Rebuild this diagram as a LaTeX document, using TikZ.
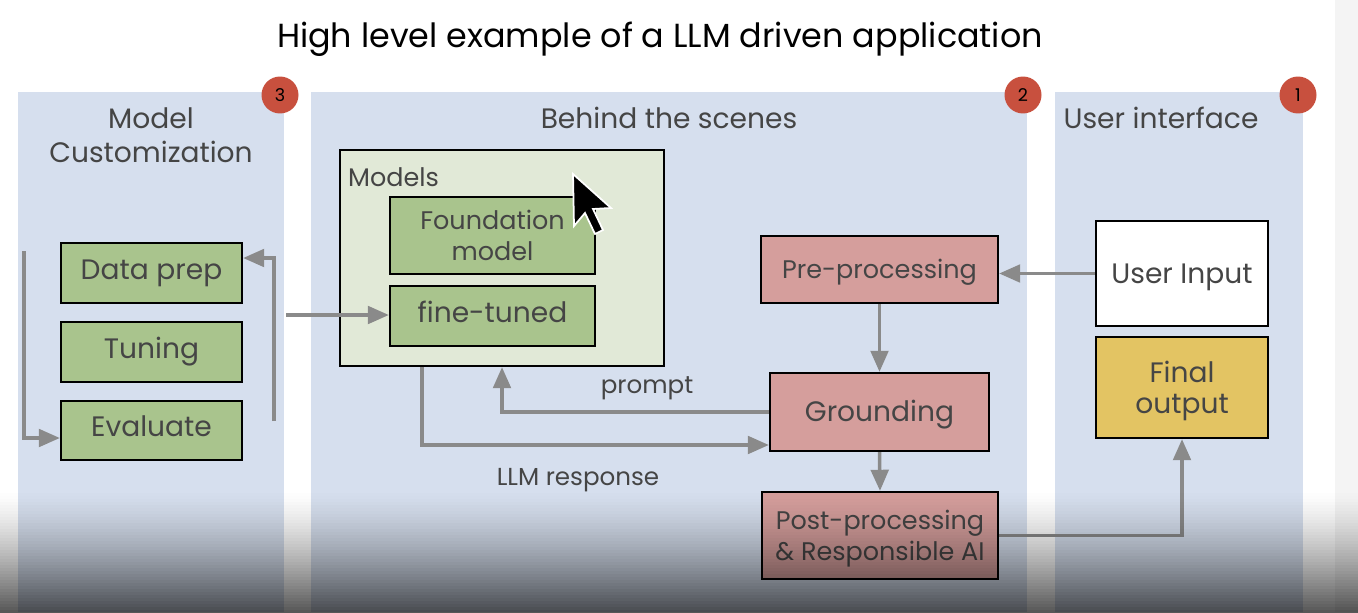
\documentclass[tikz,border=0pt]{standalone}
\usepackage{fontspec}
\setmainfont{Poppins}
\usepackage{tikz}
\usetikzlibrary{positioning,arrows.meta}

\definecolor{panelblue}{HTML}{D6DFEE}
\definecolor{tunegreen}{HTML}{A9C48D}
\definecolor{modelgreen}{HTML}{E1E9D7}
\definecolor{procred}{HTML}{D59E9C}
\definecolor{outyellow}{HTML}{E3C463}
\definecolor{badgered}{HTML}{C8503E}
\definecolor{arrowgray}{HTML}{8A8A8A}
\definecolor{textgray}{HTML}{454545}
\definecolor{stripgray}{HTML}{F4F4F4}

\newcommand{\topstrut}{\rule{0pt}{1.0em}}

\begin{document}
\begin{tikzpicture}[x=0.02cm,y=-0.02cm,
  every node/.style={text=textgray},
  badge/.style={circle,fill=badgered,minimum size=0.74cm,inner sep=0pt,font=\fontsize{10}{12}\selectfont,text=black},
  heading/.style={align=center,font=\fontsize{16}{19.3}\selectfont},
  boxes/.style={rectangle,draw=black,line width=1.3pt,align=center,inner sep=2pt,fill=#1},
  bigtext/.style={font=\fontsize{16}{18}\selectfont},
  smalltext/.style={font=\fontsize{14.5}{17.7}\selectfont},
  raised/.style={text height=12pt,text depth=4.8pt},
  level/.style={text height=16pt,text depth=4.8pt},
  smalllevel/.style={text height=14.5pt,text depth=4.35pt},
  notes/.style={font=\fontsize{14}{17}\selectfont},
  flow/.style={draw=arrowgray,line width=2pt,-{Triangle[length=12pt,width=10pt]}},
]
\useasboundingbox (0,0) rectangle (1358,612);
\fill[white] (0,0) rectangle (1358,612);
\fill[stripgray] (1335,0) rectangle (1358,612);

\node (title) at (660,39) [font=\fontsize{19}{23}\selectfont,text=black] {High level example of a LLM driven application};

\fill[panelblue] (18,92) rectangle (284,612);
\fill[panelblue] (311,92) rectangle (1027,612);
\fill[panelblue] (1055,92) rectangle (1303,612);
\node (badge3) at (280,95) [badge] {3};
\node (badge2) at (1023,95) [badge] {2};
\node (badge1) at (1298,95) [badge] {1};

\node (custhead) at (151,135) [heading] {Model\\Customization};
\node (behindhead) at (669,118) [heading] {Behind the scenes};
\node (uihead) at (1161,118) [heading] {User interface};

\node (dataprep) at (151.5,273) [boxes=tunegreen,bigtext,raised,minimum width=3.62cm,minimum height=1.2cm] {Data prep};
\node (tuning) at (151.5,352) [boxes=tunegreen,bigtext,raised,minimum width=3.62cm,minimum height=1.2cm] {Tuning};
\node (evaluate) at (151.5,430.5) [boxes=tunegreen,bigtext,raised,minimum width=3.62cm,minimum height=1.18cm] {Evaluate};

\node (models) at (502,258) [boxes=modelgreen,minimum width=6.48cm,minimum height=4.32cm] {};
\node (modelslabel) at (342,177) [anchor=west,smalltext] {Models};
\node (foundation) at (492.5,235.5) [boxes=tunegreen,smalltext,minimum width=4.1cm,minimum height=1.54cm] {Foundation\\model};
\node (finetuned) at (492.5,316) [boxes=tunegreen,bigtext,raised,minimum width=4.1cm,minimum height=1.2cm] {fine-tuned};

\node (preproc) at (879.5,269.5) [boxes=procred,smalltext,smalllevel,minimum width=4.74cm,minimum height=1.34cm] {Pre-processing};
\node (grounding) at (879.5,412) [boxes=procred,bigtext,level,minimum width=4.38cm,minimum height=1.56cm] {Grounding};
\node (postproc) at (880,535.5) [boxes=procred,smalltext,minimum width=4.72cm,minimum height=1.74cm] {\topstrut Post-processing\\\& Responsible AI};

\node (userinput) at (1182,273.5) [boxes=white,bigtext,level,minimum width=3.44cm,minimum height=2.1cm] {User Input};
\node (finaloutput) at (1182,387.5) [boxes=outyellow,bigtext,minimum width=3.44cm,minimum height=2.02cm] {\topstrut Final\\output};

\node (prompt) at (647,388) [notes] {prompt};
\node (llmresp) at (578,480) [notes] {LLM response};

\coordinate (loopL) at (24,251);
\coordinate (loopR) at (274,421);
\coordinate (custout) at (286,315);

\draw[flow] (loopL) |- ([yshift=-0.15cm]evaluate.west);
\draw[flow] (loopR) |- ([yshift=0.3cm]dataprep.east);
\draw[flow] (custout) -- (custout -| finetuned.west);
\draw[flow] (userinput.west) -- (userinput.west -| preproc.east);
\draw[flow] (preproc.south) -- (grounding.north);
\draw[flow] (grounding.west) -| (models.south);
\draw[flow] ([xshift=-1.6cm]models.south) |- ([yshift=-0.66cm]grounding.west);
\draw[flow] (grounding.south) -- (postproc.north);
\draw[flow] (postproc.east) -| (finaloutput.south);

\filldraw[fill=black,draw=white,line width=1pt] (573,174) -- (574,226) -- (585,213) -- (595,234) -- (603,230) -- (593,209) -- (611,208) -- cycle;

\foreach \i [evaluate=\i as \op using {0.67*((\i+0.5)/41)^1.4}] in {0,...,40}
  \fill[black,fill opacity=\op] (0,490+3*\i) rectangle (1358,493+3*\i);
\end{tikzpicture}
\end{document}
